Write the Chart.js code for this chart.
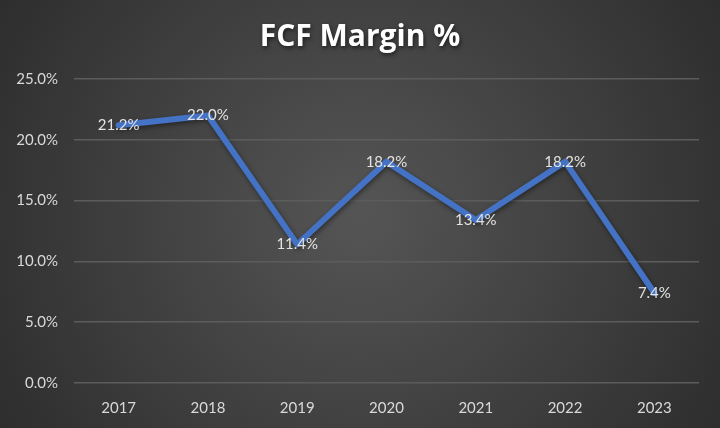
<!DOCTYPE html>
<html>
<head>
<meta charset="utf-8">
<script src="https://cdn.jsdelivr.net/npm/chart.js@4.4.1/dist/chart.umd.min.js"></script>
<style>
  html, body { margin: 0; padding: 0; background: #333; }
  #wrap { width: 720px; height: 428px; }
</style>
</head>
<body>
<div id="wrap"><canvas id="fcfChart" width="720" height="428"></canvas></div>
<script>
const years = ["2017", "2018", "2019", "2020", "2021", "2022", "2023"];
const fcfMargin = [21.2, 22.0, 11.4, 18.2, 13.4, 18.2, 7.4];
const yTicks = [0, 5, 10, 15, 20, 25];
const chartTitle = "FCF Margin %";

const fontFamily = "Lato, 'Open Sans', sans-serif";

// radial grey background like the Excel style
const bgPlugin = {
    id: "bg",
    beforeDraw(chart) {
        const ctx = chart.ctx;
        const w = chart.width, h = chart.height;
        const g = ctx.createRadialGradient(w / 2, h / 2, 0, w / 2, h / 2, w * 0.62);
        g.addColorStop(0, "#555555");
        g.addColorStop(1, "#2b2b2b");
        ctx.save();
        ctx.fillStyle = g;
        ctx.fillRect(0, 0, w, h);
        ctx.restore();
    }
};

// title centred on the whole canvas, with a soft shadow
const titlePlugin = {
    id: "centerTitle",
    afterDraw(chart) {
        const ctx = chart.ctx;
        ctx.save();
        ctx.font = "bold 30px 'Open Sans', Lato, sans-serif";
        ctx.fillStyle = "#ffffff";
        ctx.textAlign = "center";
        ctx.textBaseline = "middle";
        ctx.shadowColor = "rgba(0,0,0,0.6)";
        ctx.shadowBlur = 4;
        ctx.shadowOffsetX = 1;
        ctx.shadowOffsetY = 2;
        ctx.fillText(chartTitle, chart.width / 2, 37);
        ctx.restore();
    }
};

// line shadow
const shadowPlugin = {
    id: "lineShadow",
    beforeDatasetDraw(chart) {
        const ctx = chart.ctx;
        ctx.save();
        ctx.shadowColor = "rgba(0,0,0,0.45)";
        ctx.shadowBlur = 5;
        ctx.shadowOffsetX = 1;
        ctx.shadowOffsetY = 2;
    },
    afterDatasetDraw(chart) {
        chart.ctx.restore();
    }
};

// value labels centred on each point
const labelPlugin = {
    id: "valueLabels",
    afterDatasetsDraw(chart) {
        const ctx = chart.ctx;
        const meta = chart.getDatasetMeta(0);
        ctx.save();
        ctx.font = "15px " + fontFamily;
        ctx.fillStyle = "#e3e3e3";
        ctx.textAlign = "center";
        ctx.textBaseline = "middle";
        meta.data.forEach((pt, i) => {
            ctx.fillText(fcfMargin[i].toFixed(1) + "%", pt.x, pt.y);
        });
        ctx.restore();
    }
};

new Chart(
    document.getElementById("fcfChart"),
    {
        type: "line",
        data: {
            labels: years,
            datasets: [
                {
                    data: fcfMargin,
                    borderColor: "#4472C4",
                    borderWidth: 6,
                    pointRadius: 0,
                    tension: 0,
                    borderCapStyle: "round",
                    borderJoinStyle: "round"
                }
            ]
        },
        options: {
            responsive: false,
            animation: false,
            layout: {
                padding: { left: 0, right: 21, top: 79, bottom: 3 }
            },
            plugins: {
                legend: { display: false },
                tooltip: { enabled: false },
                title: { display: false }
            },
            scales: {
                x: {
                    offset: true,
                    grid: { display: false },
                    border: { display: false },
                    ticks: {
                        color: "#d9d9d9",
                        font: { family: fontFamily, size: 15 },
                        padding: 8
                    }
                },
                y: {
                    min: 0,
                    max: 25,
                    afterFit(scale) { scale.width = 74; },
                    afterBuildTicks(scale) {
                        scale.ticks = yTicks.map(v => ({ value: v }));
                    },
                    grid: { color: "#5c5c5c", lineWidth: 1.5, drawTicks: false },
                    border: { display: false },
                    ticks: {
                        color: "#d9d9d9",
                        font: { family: fontFamily, size: 15 },
                        padding: 16,
                        callback: v => v.toFixed(1) + "%"
                    }
                }
            }
        },
        plugins: [bgPlugin, shadowPlugin, labelPlugin, titlePlugin]
    }
);
</script>
</body>
</html>
